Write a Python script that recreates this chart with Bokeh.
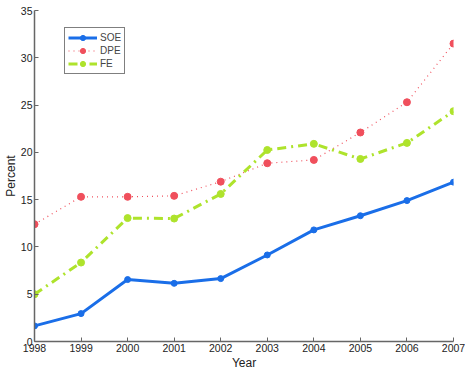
from bokeh.plotting import figure
from bokeh.models import Range1d, FixedTicker, Legend, LegendItem
from bokeh.embed import file_html
from bokeh.resources import INLINE

years = [1998, 1999, 2000, 2001, 2002, 2003, 2004, 2005, 2006, 2007]
soe = [1.65, 2.95, 6.55, 6.15, 6.65, 9.15, 11.8, 13.3, 14.9, 16.85]
dpe = [12.4, 15.3, 15.3, 15.4, 16.9, 18.85, 19.2, 22.1, 25.3, 31.5]
fe = [5.0, 8.35, 13.05, 13.0, 15.6, 20.25, 20.9, 19.3, 21.0, 24.35]
y_ticks = [0, 5, 10, 15, 20, 25, 30, 35]

FONT = "Liberation Sans"
BLUE = "#1a6ee8"
RED = "#f04f5c"
GREEN = "#aee32c"

p = figure(width=465, height=372, output_backend="svg", toolbar_location=None,
           x_range=Range1d(1998, 2007), y_range=Range1d(0, 35),
           min_border_left=6, min_border_right=12, min_border_top=10, min_border_bottom=0)
p.outline_line_color = None
p.grid.visible = False
p.background_fill_color = "white"
p.border_fill_color = "white"

p.xaxis.ticker = FixedTicker(ticks=years)
p.yaxis.ticker = FixedTicker(ticks=y_ticks)
for ax in (p.xaxis[0], p.yaxis[0]):
    ax.axis_line_color = "#666666"
    ax.axis_line_width = 1.5
    ax.major_tick_line_color = "#666666"
    ax.major_tick_in = 4
    ax.major_tick_out = 0
    ax.minor_tick_line_color = None
    ax.major_label_text_font = FONT
    ax.major_label_text_font_size = "10.5px"
    ax.major_label_text_color = "#222222"
    ax.axis_label_text_font = FONT
    ax.axis_label_text_font_size = "12px"
    ax.axis_label_text_font_style = "normal"
    ax.axis_label_text_color = "#222222"
    ax.major_label_standoff = 2
p.xaxis.axis_label = "Year"
p.yaxis.axis_label = "Percent"
p.xaxis.axis_label_standoff = 1
p.yaxis.axis_label_standoff = 0

l1 = p.line(years, soe, line_color=BLUE, line_width=3)
m1 = p.scatter(years, soe, size=6, fill_color=BLUE, line_color=BLUE)
l2 = p.line(years, dpe, line_color=RED, line_width=1.2, line_dash="1 4")
m2 = p.scatter(years, dpe, size=7, fill_color=RED, line_color=RED)
l3 = p.line(years, fe, line_color=GREEN, line_width=3, line_dash="9 5 2 5")
m3 = p.scatter(years, fe, size=7, fill_color=GREEN, line_color=GREEN)

legend = Legend(items=[LegendItem(label="SOE", renderers=[l1, m1]),
                       LegendItem(label="DPE", renderers=[l2, m2]),
                       LegendItem(label="FE", renderers=[l3, m3])],
                location=(30, 267), label_text_font=FONT, label_text_font_size="10px",
                border_line_color="black", border_line_width=1,
                glyph_width=29, glyph_height=13, label_height=13, spacing=0,
                padding=3, margin=0, label_standoff=3, background_fill_alpha=1)
p.add_layout(legend, "center")

open("out.html", "w").write(file_html(p, INLINE))
